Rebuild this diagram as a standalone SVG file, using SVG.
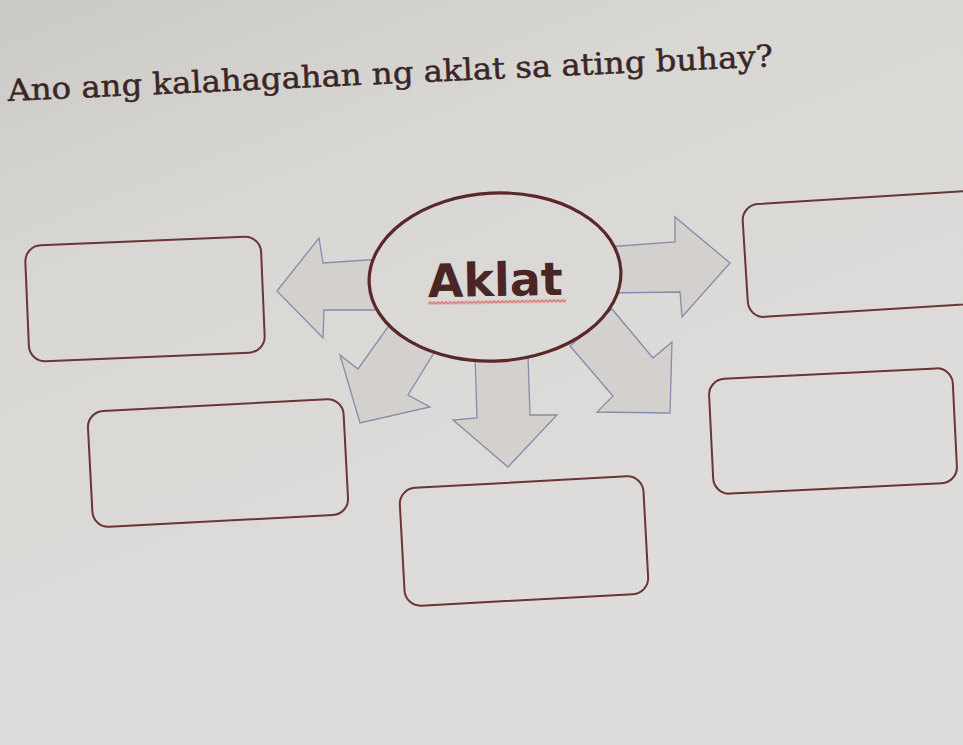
<svg xmlns="http://www.w3.org/2000/svg" width="963" height="745" viewBox="0 0 963 745">
  <defs>
    <linearGradient id="paperU" x1="0" y1="0" x2="289" y2="745" gradientUnits="userSpaceOnUse">
      <stop offset="0" stop-color="#cbc9c6"/>
      <stop offset="0.35" stop-color="#d9d7d4"/>
      <stop offset="1" stop-color="#dfdddb"/>
    </linearGradient>
    <pattern id="wave" width="4" height="4" patternUnits="userSpaceOnUse">
      <path d="M0,3.2 L2,0.8 L4,3.2" fill="none" stroke="#e07272" stroke-width="1.4"/>
    </pattern>
    <style>
      .box { fill: none; stroke: #6a3535; stroke-width: 2; }
      .arrow { fill: #d3d0cd; stroke: #868cac; stroke-width: 1.3; stroke-linejoin: miter; }
      .title { font-family: "DejaVu Serif", "Liberation Serif", serif; font-size: 30px; fill: #3a2626; stroke: #3a2626; stroke-width: 0.5; }
      .center { font-family: "DejaVu Sans", "Liberation Sans", sans-serif; font-weight: bold; font-size: 46px; fill: #4a2525; }
    </style>
  </defs>

  <rect x="0" y="0" width="963" height="745" fill="url(#paperU)"/>

  <text class="title" x="8" y="101" transform="rotate(-2.6 8 101)" textLength="766" lengthAdjust="spacingAndGlyphs">Ano ang kalahagahan ng aklat sa ating buhay?</text>

  <g id="connectors">
    <polygon class="arrow" points="277,291 319,238 323,263 382,259 382,310 324,310 323,338"/>
    <polygon class="arrow" points="606,247 675,242 675,217 730,263 682,317 680,292 606,293"/>
    <polygon class="arrow" points="340,355 358,369 390,324 437,348 408,395 430,407 360,423"/>
    <polygon class="arrow" points="475,355 528,355 530,415 557,415 508,467 453,420 477,418"/>
    <polygon class="arrow" points="570,346 612,309 653,358 672,342 670,413 597,412 613,396"/>
  </g>

  <g id="node-aklat">
    <ellipse cx="495" cy="277" rx="126" ry="84" transform="rotate(-3 495 277)" fill="url(#paperU)" stroke="#5a2828" stroke-width="3.2"/>
    <g transform="rotate(-1 497 290)">
      <text class="center" x="428" y="296">Aklat</text>
      <rect x="428" y="300" width="138" height="4" fill="url(#wave)"/>
    </g>
  </g>

  <g id="box-top-left">
    <rect class="box" x="27" y="241" width="236" height="116" rx="16" transform="rotate(-2.4 145 299)"/>
  </g>
  <g id="box-mid-left">
    <rect class="box" x="90" y="405" width="256" height="116" rx="16" transform="rotate(-3 218 463)"/>
  </g>
  <g id="box-top-right">
    <rect class="box" x="745" y="196.5" width="270" height="113" rx="16" transform="rotate(-3.6 880 253)"/>
  </g>
  <g id="box-mid-right">
    <rect class="box" x="711" y="373.5" width="244" height="115" rx="16" transform="rotate(-2.8 833 431)"/>
  </g>
  <g id="box-bottom">
    <rect class="box" x="402" y="482" width="244" height="118" rx="16" transform="rotate(-3.1 524 541)"/>
  </g>
</svg>
